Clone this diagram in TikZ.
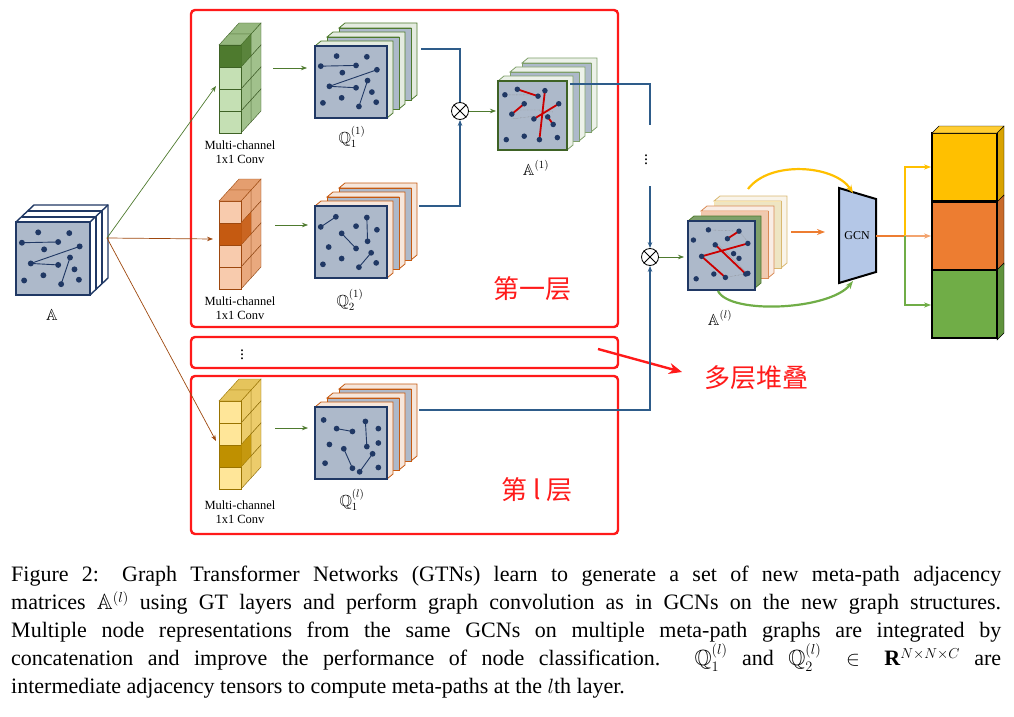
\documentclass[tikz,border=0pt]{standalone}
\usepackage{amssymb}
\usepackage{fontspec}
\setmainfont{Liberation Serif}
\newfontfamily\cjk{Noto Sans CJK SC}
\usetikzlibrary{arrows.meta}
\definecolor{sq}{HTML}{ADB9CA}
\definecolor{db}{HTML}{203864}
\definecolor{lb}{HTML}{2E5C8A}
\definecolor{gL}{HTML}{C5E0B4}\definecolor{gD}{HTML}{4E7A2E}
\definecolor{gM}{HTML}{7FA06A}\definecolor{gE}{HTML}{3E6225}
\definecolor{oL}{HTML}{F8CBAD}\definecolor{oD}{HTML}{C55A11}
\definecolor{oM}{HTML}{D98A55}\definecolor{yM}{HTML}{D9B870}
\definecolor{yL}{HTML}{FFE699}\definecolor{yD}{HTML}{BF9000}
\definecolor{rr}{HTML}{FF1A1A}
\definecolor{gcn}{HTML}{B4C7E7}
\definecolor{oy}{HTML}{FFC000}\definecolor{oo}{HTML}{ED7D31}\definecolor{og}{HTML}{70AD47}
\tikzset{
 redbox/.style={draw=rr,line width=2.4pt,rounded corners=4pt},
 garr/.style={-{Stealth[length=6pt]},draw=gD,line width=0.7pt},
 barr/.style={-{Stealth[length=6pt]},draw=oD!80!black,line width=0.7pt},
 bline/.style={draw=lb,line width=1.2pt},
 lab/.style={font=\fontsize{12.5}{14}\selectfont,align=center,inner sep=0pt},
 mlab/.style={inner sep=0pt,font=\fontsize{16}{16}\selectfont},
 otim/.style={circle,draw,thick,fill=white,minimum size=17pt,inner sep=0pt},
}
\newcommand\slab[4]{%
 \filldraw[draw=#4,fill=#4!15,line width=0.8pt] (#1,#2)--++(6,-5)--++(#3,0)--++(0,#3)--++(-6,5)--++(0,-#3)--cycle;
 \filldraw[draw=#4,fill=sq,line width=0.8pt] (#1,#2) rectangle ++(#3,#3);}
\def\R{4}
\newcommand\patA{%
 \draw[db,line width=0.9pt] (8,28)--(57,27) (20,56)--(86,33) (20,56)--(57,58) (73,48)--(61,84);
 \foreach \p in {(30,14),(72,15),(8,28),(57,27),(38,37),(86,33),(20,56),(57,58),(73,48),(79,64),(37,72),(11,79),(61,84),(85,78)} \fill[db] \p circle (\R);}
\newcommand\patB{%
 \draw[db,line width=0.9pt] (8,29)--(29,15) (72,16)--(73,49) (37,38)--(57,59) (61,85)--(78,65);
 \foreach \p in {(8,29),(29,15),(57,28),(72,16),(86,33),(37,38),(57,59),(73,49),(19,57),(37,73),(11,81),(61,85),(78,65),(85,79)} \fill[db] \p circle (\R);}
\newcommand\patC{%
 \draw[db,line width=0.9pt] (30,30)--(52,34) (70,20)--(72,55) (40,58)--(52,85) (62,90)--(80,65);
 \foreach \p in {(12,18),(30,30),(52,34),(70,20),(88,30),(20,52),(40,58),(72,55),(88,50),(14,78),(52,85),(62,90),(80,65),(88,84)} \fill[db] \p circle (\R);}
\newcommand\patD{%
 \draw[gray,densely dotted,thin] (10,20)--(55,20) (30,42)--(60,42)--(80,45) (60,42)--(80,63) (20,55)--(60,50);
 \draw[red!80!black,line width=1.8pt] (28,12)--(58,22) (68,14)--(60,85) (20,48)--(38,33) (52,55)--(88,33) (72,52)--(80,63);
 \foreach \p in {(10,20),(28,12),(58,22),(68,14),(38,33),(88,33),(20,48),(52,55),(72,52),(80,63),(60,85),(12,85),(38,80),(86,82)} \fill[db] \p circle (\R);}
\newcommand\patE{%
 \draw[gray,densely dotted,thin] (30,13)--(75,15)--(90,33) (20,52)--(55,83)--(88,77) (45,35)--(88,77);
 \draw[red!80!black,line width=1.8pt] (58,26)--(75,15) (20,52)--(88,33) (20,52)--(55,83) (40,35)--(85,78);
 \foreach \p in {(30,13),(75,15),(8,28),(58,26),(88,33),(40,35),(20,52),(67,48),(75,55),(88,77),(55,83),(12,85),(38,78),(85,78)} \fill[db] \p circle (\R);}
\newcommand\stack[6]{% x y w frontedge backcolor pattern
 \slab{#1+24}{#2-18}{#3}{#5}\slab{#1+12}{#2-9}{#3}{#5}
 \filldraw[draw=#5,fill=#5!15,line width=0.8pt] (#1,#2)--++(6,-5)--++(#3,0)--++(0,#3)--++(-6,5)--cycle;
 \filldraw[draw=#4,fill=sq,line width=1.6pt] (#1,#2) rectangle ++(#3,#3);
 \begin{scope}[shift={(#1,#2)},scale=#3/100]#6\end{scope}}
\newcommand\conv[5]{% x y light dark darkidx
 \foreach \i in {0,...,3}{
  \foreach \j in {1,0}{
   \filldraw[draw=#4!70!black,fill=#3!70!#4,thin] (#1+22+10*\j,#2+22*\i-11*\j)--++(10,-11)--++(0,22)--++(-10,11)--cycle;}
  \ifnum\i=#5\relax\def\cc{#4}\else\def\cc{#3}\fi
  \filldraw[draw=#4!80!black,fill=\cc,thin] (#1,#2+22*\i) rectangle ++(22,22);}
 \foreach \j in {1,0}{\filldraw[draw=#4!80!black,fill=#3!60!#4,thin] (#1+10*\j,#2-11*\j)--++(10,-11)--++(22,0)--++(-10,11)--cycle;}
 \fill[#4,opacity=.85] (#1+22,#2+22*#5)--++(10,-11)--++(0,22)--++(-10,11)--cycle;}
\begin{document}
\begin{tikzpicture}[x=1pt,y=-1pt]
\useasboundingbox (0,0) rectangle (1014,717);
\draw[redbox] (191,10) rectangle (618,327);
\draw[redbox] (191,337) rectangle (618,368);
\draw[redbox] (191,376) rectangle (618,534);
\node[mlab] (d1) at (242,352) {$\vdots$};
\node[text=rr,font=\cjk\fontsize{26}{26}\selectfont] (t1) at (532,289) {第一层};
\node[text=rr,font=\cjk\fontsize{26}{26}\selectfont] (t2) at (537,490) {第 l 层};
\node[text=rr,font=\cjk\fontsize{26}{26}\selectfont] (t3) at (756,378) {多层堆叠};
\coordinate (ra) at (598,349);
\draw[rr,line width=2.4pt,-{Stealth[length=13pt,width=11pt]}] (ra)--(682,372);
\draw[db,line width=1.4pt] (16,222)--(34,205)--(108,205)--(108,278)--(90,295);
\draw[db,line width=1.4pt] (22,217)--(96,217)--(96,290) (28,211)--(102,211)--(102,284);
\draw[db,line width=1.4pt] (90,222)--(108,205);
\filldraw[draw=db,fill=sq,line width=1.6pt] (16,222) rectangle (90,295);
\begin{scope}[shift={(16,222)},scale=.74]\patA\end{scope}
\node[mlab] (A) at (52,315) {$\mathbb{A}$};
\coordinate (As) at (107,238);
\conv{219}{45}{gL}{gD}{0}
\conv{219}{201}{oL}{oD}{1}
\conv{219}{401}{yL}{yD}{2}
\coordinate (c1in) at (216,86); \coordinate (c2in) at (213,239); \coordinate (c3in) at (216,441);
\draw[garr] (As)--(c1in);
\draw[barr] (As)--(c2in);
\draw[barr] (As)--(c3in);
\node[lab] (l1) at (240,152) {Multi-channel\\1x1 Conv};
\node[lab] (l2) at (240,308) {Multi-channel\\1x1 Conv};
\node[lab] (l3) at (240,512) {Multi-channel\\1x1 Conv};
\coordinate (c1o) at (273,68); \coordinate (q1i) at (307,68);
\coordinate (c2o) at (275,225); \coordinate (q2i) at (308,225);
\coordinate (c3o) at (275,428); \coordinate (q3i) at (308,428);
\draw[garr] (c1o)--(q1i); \draw[garr] (c2o)--(q2i); \draw[garr] (c3o)--(q3i);
\stack{315}{46}{72}{db}{gD}{\patA}
\stack{315}{206}{72}{db}{oD}{\patB}
\stack{315}{407}{72}{db}{oD}{\patC}
\node[mlab] (Q1) at (352,137) {$\mathbb{Q}_1^{(1)}$};
\node[mlab] (Q2) at (350,300) {$\mathbb{Q}_2^{(1)}$};
\node[mlab] (Q3) at (352,500) {$\mathbb{Q}_1^{(l)}$};
\node[otim] (ot1) at (460,111) {};
\draw[thick] (ot1.north west)--(ot1.south east) (ot1.north east)--(ot1.south west);
\coordinate (q1o) at (421,49); \coordinate (q2o) at (419,206);
\draw[bline] (q1o)-|(ot1.north);
\draw[bline,-{Stealth[length=6pt]}] (q2o)-|(ot1.south);
\stack{498}{81}{69}{gE}{gM}{\patD}
\node[mlab] (A1) at (536,168) {$\mathbb{A}^{(1)}$};
\draw[garr] (ot1.east)--(496,111);
\node[otim] (ot2) at (650,257) {};
\draw[thick] (ot2.north west)--(ot2.south east) (ot2.north east)--(ot2.south west);
\coordinate (a1o) at (570,84); \coordinate (v1) at (650,125);
\draw[bline] (a1o)-|(v1);
\node[mlab] (d2) at (646,157) {$\vdots$};
\coordinate (v2) at (650,186);
\draw[bline,-{Stealth[length=6pt]}] (v2)--(ot2.north);
\coordinate (q3o) at (419,410);
\draw[bline,-{Stealth[length=6pt]}] (q3o)-|(ot2.south);
\slab{714}{201}{67}{yM}
\fill[yL!60,opacity=.8] (714,201) rectangle ++(67,67);
\slab{701}{211}{67}{oM}
\fill[oL,opacity=.9] (701,211) rectangle ++(67,67);
\filldraw[draw=gD,fill=gM,line width=0.8pt] (688,221)--++(6,-5)--++(67,0)--++(0,67)--++(-6,5)--cycle;
\filldraw[draw=db,fill=sq,line width=1.6pt] (688,221) rectangle ++(67,69);
\begin{scope}[shift={(688,221)},scale=.68]\patE\end{scope}
\node[mlab] (Al) at (720,318) {$\mathbb{A}^{(l)}$};
\draw[garr] (ot2.east)--(684,257);
\draw[line width=2pt,fill=gcn] (839,188)--(876,199)--(876,272)--(839,283)--cycle;
\node[font=\fontsize{12}{12}\selectfont] (gcn) at (857,236) {GCN};
\coordinate (alt) at (748,189); \coordinate (gt) at (853,193);
\coordinate (alb) at (718,291); \coordinate (gb) at (853,281);
\draw[oy,line width=2.2pt,-{Stealth[length=8pt]}] (alt) .. controls (770,160) and (835,165) .. (gt);
\draw[og,line width=2.2pt,-{Stealth[length=8pt]}] (alb) .. controls (730,315) and (830,310) .. (gb);
\coordinate (oa) at (791,232); \coordinate (ob) at (825,232);
\draw[oo,line width=2.2pt,-{Stealth[length=8pt]}] (oa)--(ob);
\foreach \y/\c in {133/oy,202/oo,270/og}{
 \filldraw[draw=black,fill=\c!85!black,thin] (997,\y)--++(7,-7)--++(0,70)--++(-7,7)--cycle;
 \filldraw[draw=black,fill=\c,line width=1.4pt] (932,\y) rectangle (997,\y+68);}
\filldraw[draw=black,fill=oy!80!white,thin] (932,133)--(939,126)--(1004,126)--(997,133)--cycle;
\coordinate (br) at (905,236);
\draw[oo,line width=1.6pt] (876,236)--(br);
\draw[oy,line width=1.6pt,-{Stealth[length=7pt]}] (br)|-(931,167);
\draw[oo!70,line width=1.6pt,-{Stealth[length=7pt]}] (br)--(931,236);
\draw[og,line width=1.6pt,-{Stealth[length=7pt]}] (br)|-(931,305);
\node[anchor=north west,text width=990pt,align=justify,inner sep=0pt,font=\fontsize{22}{28}\selectfont] (cap) at (11,566) {Figure 2: Graph Transformer Networks (GTNs) learn to generate a set of new meta-path adjacency\linebreak matrices $\mathbb{A}^{(l)}$ using GT layers and perform graph convolution as in GCNs on the new graph structures.\linebreak Multiple node representations from the same GCNs on multiple meta-path graphs are integrated by\linebreak concatenation and improve the performance of node classification. $\mathbb{Q}_1^{(l)}$ and $\mathbb{Q}_2^{(l)}\in\mathbf{R}^{N\times N\times C}$ are\linebreak intermediate adjacency tensors to compute meta-paths at the $l$th layer.};
\end{tikzpicture}
\end{document}
